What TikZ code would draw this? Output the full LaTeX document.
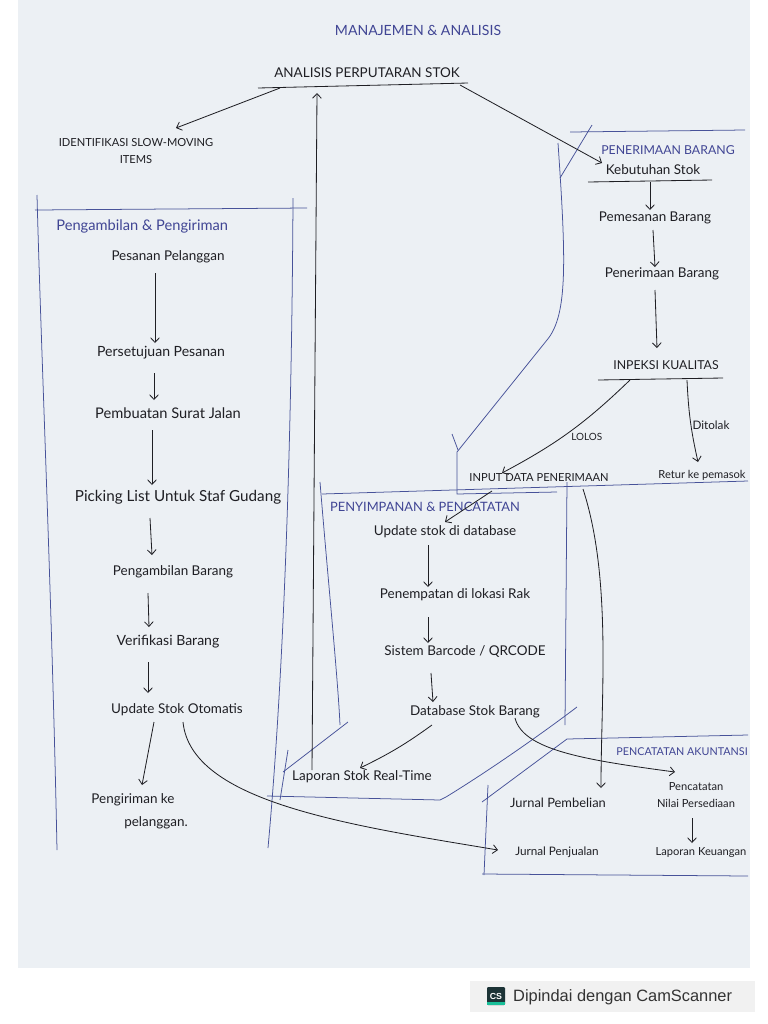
\documentclass[tikz,border=0pt]{standalone}
\usepackage{fontspec}
\setmainfont{Lato}
\newfontfamily\scanfont{Liberation Sans}
\usetikzlibrary{arrows,arrows.meta,calc}
\definecolor{PaperClr}{rgb}{0.925,0.94,0.957}
\definecolor{InkClr}{rgb}{0.12,0.12,0.14}
\definecolor{PenClr}{rgb}{0.28,0.32,0.6}
\definecolor{HeadClr}{rgb}{0.25,0.27,0.58}
\definecolor{BarClr}{rgb}{0.945,0.945,0.945}
\definecolor{LogoClr}{rgb}{0.11,0.2,0.21}
\definecolor{StripClr}{rgb}{0.1,0.75,0.6}
\definecolor{NoteClr}{rgb}{0.2,0.2,0.2}

\tikzset{
  txt/.style={text=InkClr,inner sep=1pt,font=\fontsize{11.5}{14}\selectfont},
  sml/.style={text=InkClr,inner sep=1pt,font=\fontsize{10}{12}\selectfont},
  head/.style={text=HeadClr,inner sep=1pt,font=\fontsize{11}{13}\selectfont},
  arr/.style={-{Straight Barb[length=4pt,width=7.5pt]},draw=InkClr,line width=0.7pt},
  penline/.style={draw=PenClr,line width=0.65pt},
  ink/.style={draw=InkClr,line width=0.7pt},
}

\begin{document}
\begin{tikzpicture}[x=0.03cm,y=-0.03cm]
\useasboundingbox (0,0) rectangle (768,1024);
\fill[white] (0,0) rectangle (768,1024);
\fill[PaperClr] (18,0) rectangle (750,968);

\begin{scope}
\clip (18,0) rectangle (750,968);

\node[head,font=\fontsize{12}{14}\selectfont] (judul) at (418,30) {MANAJEMEN \& ANALISIS};
\node[txt,font=\fontsize{11.5}{14}\selectfont] (analisis) at (367,73) {ANALISIS PERPUTARAN STOK};
\node[sml,align=center,font=\fontsize{9.5}{14.5}\selectfont] (slowMoving) at (136,151) {IDENTIFIKASI SLOW-MOVING\\ITEMS};

\node[head,anchor=west,font=\fontsize{12.5}{14}\selectfont] (pengTitle) at (55,226) {Pengambilan \& Pengiriman};
\node[txt] (pesanan) at (168,257) {Pesanan Pelanggan};
\node[txt,font=\fontsize{12}{14}\selectfont] (setuju) at (161,353) {Persetujuan Pesanan};
\node[txt,font=\fontsize{12.5}{14}\selectfont] (suratJalan) at (168,413) {Pembuatan Surat Jalan};
\node[txt,font=\fontsize{13}{15}\selectfont] (picking) at (178,497) {Picking List Untuk Staf Gudang};
\node[txt] (ambilBrg) at (173,572) {Pengambilan Barang};
\node[txt,font=\fontsize{12}{14}\selectfont] (verifBrg) at (168,642) {Verifikasi Barang};
\node[txt] (updOto) at (177,710) {Update Stok Otomatis};
\node[txt] (kirim) at (133,800) {Pengiriman ke};
\node[txt] (kirimB) at (156,823) {pelanggan.};

\node[head,font=\fontsize{10.5}{12}\selectfont] (terimaTitle) at (668,150) {PENERIMAAN BARANG};
\node[txt] (kebutuhan) at (653,170) {Kebutuhan Stok};
\node[txt] (pesanBrg) at (655,218) {Pemesanan Barang};
\node[txt] (terimaBrg) at (662,274) {Penerimaan Barang};
\node[sml,font=\fontsize{10.5}{12}\selectfont] (inspeksi) at (666,365) {INPEKSI KUALITAS};
\node[sml,font=\fontsize{9.5}{12}\selectfont] (retur) at (702,475) {Retur ke pemasok};
\node[sml,font=\fontsize{9.5}{12}\selectfont] (inputData) at (539,478) {INPUT DATA PENERIMAAN};

\node[head] (penyTitle) at (425,507) {PENYIMPANAN \& PENCATATAN};
\node[txt] (updDb) at (445,532) {Update stok di database};
\node[txt] (rak) at (455,595) {Penempatan di lokasi Rak};
\node[txt] (barcode) at (465,652) {Sistem Barcode / QRCODE};
\node[txt] (dbStok) at (475,712) {Database Stok Barang};
\node[txt] (laporanRT) at (362,777) {Laporan Stok Real-Time};

\node[head,anchor=west,font=\fontsize{9.2}{11}\selectfont] (akunTitle) at (615,752) {PENCATATAN AKUNTANSI};
\node[sml,font=\fontsize{11}{13}\selectfont] (jurnalBeli) at (558,803) {Jurnal Pembelian};
\node[sml,align=center,font=\fontsize{9.5}{14.5}\selectfont] (pencNilai) at (696,795) {Pencatatan\\Nilai Persediaan};
\node[sml,font=\fontsize{9.5}{12}\selectfont] (lapKeu) at (701,853) {Laporan Keuangan};
\node[sml] (jurnalJual) at (557,852) {Jurnal Penjualan};

\draw[penline] (35,210) -- (307,208);
\draw[penline] (37,195) .. controls (41,350) and (52,600) .. (57,850);
\draw[penline] (293,198) .. controls (292,400) and (286,650) .. (268,848);

\draw[penline] (570,132) -- (745,130);
\draw[penline] (592,125) -- (560,178);
\draw[penline] (558,143) .. controls (566,260) and (568,315) .. (547,340) -- (457,452) -- (457,494) -- (557,492);
\draw[penline] (452,434) -- (458,450);
\draw[penline] (322,494) -- (748,481);

\draw[penline] (320,482) .. controls (328,580) and (338,680) .. (340,725);
\draw[penline] (348,722) -- (283,772);
\draw[penline] (288,750) -- (280,800);
\draw[penline] (267,796) -- (440,800) -- (446,797) .. controls (490,770) and (540,735) .. (577,707);
\draw[penline] (567,482) -- (565,725);

\draw[penline] (748,735) -- (567,739) -- (482,802);
\draw[penline] (488,785) -- (484,875);
\draw[penline] (482,874) -- (748,876);

\draw[ink] (258,88) -- (468,83);
\draw[ink] (588,182) -- (712,180);
\draw[ink] (598,380) -- (723,378);

\draw[arr] ($(analisis)+(-87,15)$) -- ($(slowMoving)+(40,-23)$);
\draw[arr] ($(analisis)+(93,12)$) -- ($(kebutuhan)+(-51,-7)$);
\draw[arr] ($(laporanRT)+(-50,-7)$) -- ($(analisis)+(-50,20)$);

\draw[arr] ($(pesanan)+(-13,16)$) -- ($(setuju)+(-6,-10)$);
\draw[arr] ($(setuju)+(-7,20)$) -- ($(suratJalan)+(-14,-13)$);
\draw[arr] ($(suratJalan)+(-16,17)$) -- ($(picking)+(-26,-12)$);
\draw[arr] ($(picking)+(-28,21)$) -- ($(ambilBrg)+(-21,-17)$);
\draw[arr] ($(ambilBrg)+(-25,21)$) -- ($(verifBrg)+(-19,-15)$);
\draw[arr] ($(verifBrg)+(-20,20)$) -- ($(updOto)+(-29,-17)$);
\draw[arr] ($(updOto)+(-23,12)$) -- ($(kirim)+(9,-15)$);
\draw[arr] ($(updOto)+(6,12)$) .. controls +(8,80) and +(-150,-25) .. ($(jurnalJual)+(-59,-2)$);

\draw[arr] ($(kebutuhan)+(-3,12)$) -- ($(pesanBrg)+(-5,-8)$);
\draw[arr] ($(pesanBrg)+(-2,12)$) -- ($(terimaBrg)+(-7,-7)$);
\draw[arr] ($(terimaBrg)+(-7,16)$) -- ($(inspeksi)+(-9,-17)$);
\draw[arr] ($(inspeksi)+(-36,15)$) to[bend left=8] node[sml,font=\fontsize{8.5}{10}\selectfont,pos=.5,below right] (lolosLbl) {LOLOS} ($(inputData)+(-37,-5)$);
\draw[arr] ($(inspeksi)+(21,15)$) to[bend right=5] node[sml,pos=.55,right] (tolakLbl) {Ditolak} ($(retur)+(-4,-13)$);
\draw[arr] ($(inputData)+(-47,13)$) -- ($(updDb)+(0,-10)$);
\draw[arr] ($(inputData)+(44,11)$) to[out=-72,in=90,looseness=.8] ($(jurnalBeli)+(43,-15)$);

\draw[arr] ($(updDb)+(-17,13)$) -- ($(rak)+(-27,-8)$);
\draw[arr] ($(rak)+(-27,22)$) -- ($(barcode)+(-37,-9)$);
\draw[arr] ($(barcode)+(-34,21)$) -- ($(dbStok)+(-42,-10)$);
\draw[arr] ($(dbStok)+(-43,13)$) to[bend left=5] ($(laporanRT)+(-2,-9)$);
\draw[arr] ($(dbStok)+(40,6)$) .. controls +(8,32) and +(-90,-12) .. ($(pencNilai)+(-21,-23)$);
\draw[arr] ($(pencNilai)+(-4,23)$) -- ($(lapKeu)+(-9,-10)$);
\end{scope}

\fill[BarClr] (470,981) rectangle (755,1012);
\node[fill=LogoClr,text=white,font=\scanfont\bfseries\fontsize{7.5}{8}\selectfont,minimum width=0.54cm,minimum height=0.54cm,inner sep=0pt,rounded corners=1pt] (csLogo) at (496,996) {CS};
\fill[StripClr] (487,1002) rectangle (505,1005);
\node[anchor=west,text=NoteClr,font=\scanfont\fontsize{14}{16}\selectfont,inner sep=0pt] (scanNote) at (513,997) {Dipindai dengan CamScanner};
\end{tikzpicture}
\end{document}
